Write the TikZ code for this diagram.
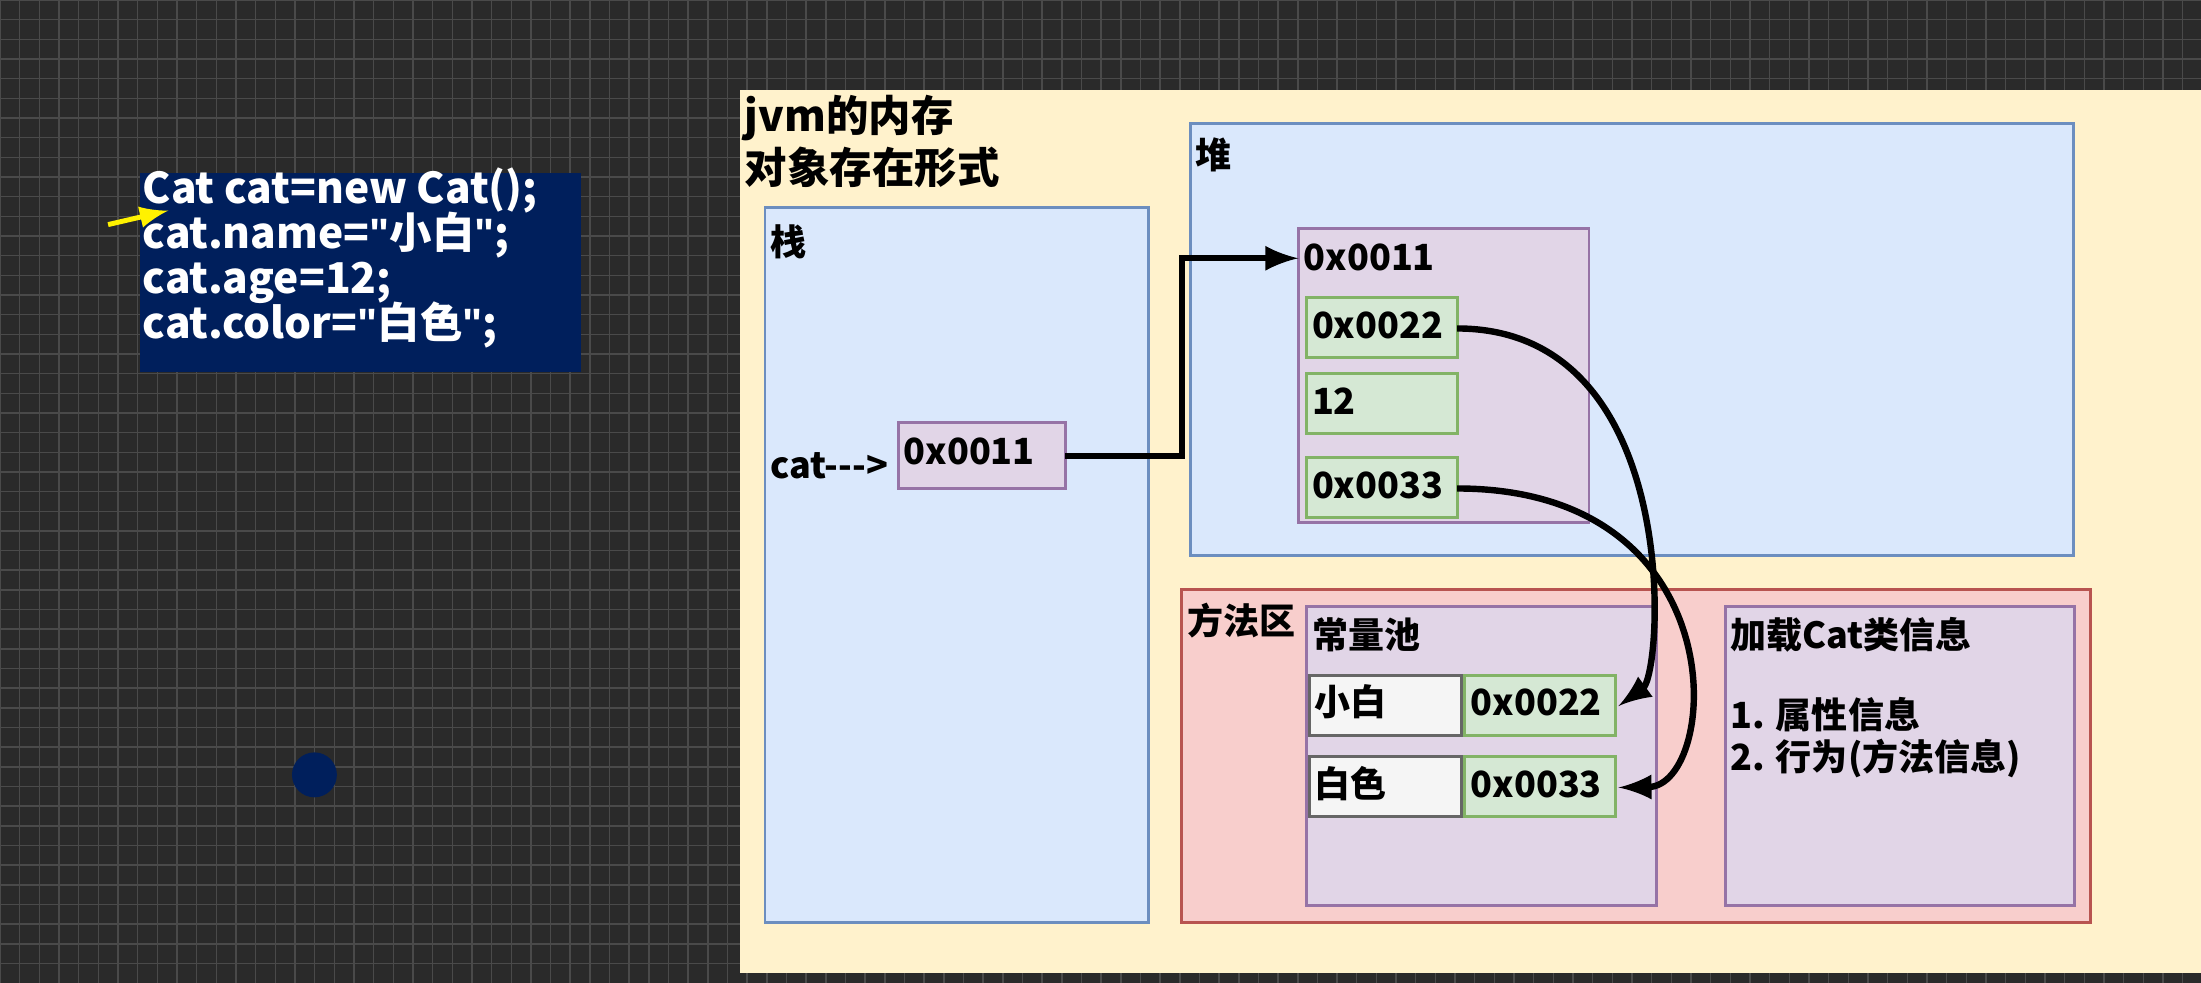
\documentclass[tikz,border=0pt]{standalone}
\usepackage{fontspec}
\setmainfont{Noto Sans CJK SC}
\newfontfamily\latfont{Liberation Sans}
\usetikzlibrary{positioning}
\newcommand\dq{{\latfont\bfseries\symbol{34}}}
\definecolor{gridbg}{HTML}{2A2A2A}
\definecolor{gridln}{HTML}{4A4A4A}
\definecolor{codebg}{HTML}{001F5C}
\definecolor{jvmbg}{HTML}{FFF2CC}
\definecolor{bluef}{HTML}{DAE8FC}\definecolor{blued}{HTML}{6C8EBF}
\definecolor{purf}{HTML}{E1D5E7}\definecolor{purd}{HTML}{9673A6}
\definecolor{grnf}{HTML}{D5E8D4}\definecolor{grnd}{HTML}{82B366}
\definecolor{redf}{HTML}{F8CECC}\definecolor{redd}{HTML}{B85450}
\definecolor{gryf}{HTML}{F5F5F5}\definecolor{gryd}{HTML}{666666}
\tikzset{
  area/.style={draw=#1d,fill=#1f,line width=0.6pt},
  lbl/.style={anchor=base west,inner sep=0pt,font=\bfseries\fontsize{7.3}{9}\selectfont},
  link/.style={line width=1.3pt,-latex},
}
\begin{document}
\begin{tikzpicture}[x=0.01cm,y=-0.01cm]
  \useasboundingbox (0,0) rectangle (1568,700);
  \fill[gridbg] (0,0) rectangle (1568,700);
  \draw[gridln,step=0.14cm,line width=0.3pt] (0,0) grid (1568,700);
  % code
  \fill[codebg] (100,123) rectangle (414,265);
  \foreach \t [count=\i] in {Cat cat=new Cat();,cat.name=\dq 小白\dq;,cat.age=12;,cat.color=\dq 白色\dq;}
    \node[lbl,text=white,font=\bfseries\fontsize{8.6}{10}\selectfont] at (101,113+\i*32) {\t};
  \draw[yellow,line width=1pt,-latex] (77,160) -- (120,150);
  \fill[codebg] (224,552) circle (16);
  % jvm
  \fill[jvmbg] (527,64) rectangle (1568,693);
  \node[lbl,font=\bfseries\fontsize{8.6}{10}\selectfont] at (530,94) {jvm的内存};
  \node[lbl,font=\bfseries\fontsize{8.6}{10}\selectfont] at (530,131) {对象存在形式};
  % stack
  \draw[area=blue] (545,148) rectangle (818,657);
  \node[lbl] at (548,182) {栈};
  \node[lbl] at (548,341) {cat{-}{-}{-}>};
  \draw[area=pur] (640,301) rectangle (759,348);
  \node (ref) [lbl] at (643,331) {0x0011};
  \coordinate (refR) at (759,325);
  % heap
  \draw[area=blue] (848,88) rectangle (1477,396);
  \node[lbl] at (851,120) {堆};
  \draw[area=pur] (925,163) rectangle (1132,372);
  \node[lbl] at (928,193) {0x0011};
  \coordinate (objL) at (925,184);
  \foreach \y/\t/\n in {212/0x0022/fa,266/12/fb,326/0x0033/fc}{
    \draw[area=grn] (931,\y) rectangle (1038,\y+43);
    \node[lbl] at (934,\y+29) {\t};
    \coordinate (\n) at (1038,\y+22);
  }
  % method area
  \draw[area=red] (842,420) rectangle (1489,657);
  \node[lbl] at (845,452) {方法区};
  \draw[area=pur] (931,432) rectangle (1180,645);
  \node[lbl] at (934,462) {常量池};
  \foreach \y/\s/\t/\n in {481/小白/0x0022/pa,539/白色/0x0033/pb}{
    \draw[area=gry] (933,\y) rectangle (1041,\y+43);
    \node[lbl] at (936,\y+29) {\s};
    \draw[area=grn] (1043,\y) rectangle (1151,\y+43);
    \node[lbl] at (1047,\y+29) {\t};
    \coordinate (\n) at (1153,\y+22);
  }
  \draw[area=pur] (1229,432) rectangle (1478,645);
  \node[lbl] at (1232,462) {加载Cat类信息};
  \node[lbl] at (1232,519) {1. 属性信息};
  \node[lbl] at (1232,549) {2. 行为(方法信息)};
  % links
  \draw[link] (refR) -- (842,325) -- (842,184) -- (objL);
  \draw[link] (fa) .. controls (1200,234) and (1185,480) .. (pa);
  \draw[link] (fc) .. controls (1240,348) and (1225,560) .. (pb);
\end{tikzpicture}
\end{document}
